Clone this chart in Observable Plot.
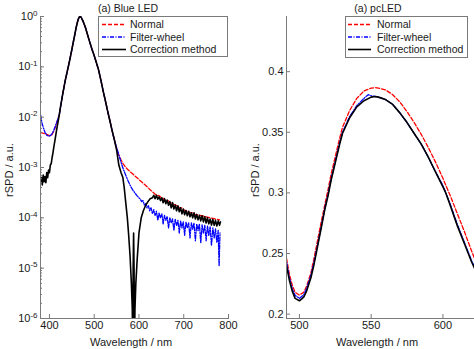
<!DOCTYPE html>
<html><head><meta charset="utf-8">
<script src="https://cdn.jsdelivr.net/npm/d3@7"></script>
<script src="https://cdn.jsdelivr.net/npm/@observablehq/plot@0.6"></script>
<style>
body{margin:0;background:#fff;font-family:"Liberation Sans",Arial,sans-serif;}
#wrap{position:relative;width:474px;height:349px;overflow:hidden;background:#fff;}
.panel{position:absolute;top:0;}
.lab{position:absolute;white-space:nowrap;color:#1a1a1a;transform:translate(-50%,-50%);line-height:1;}
.ylab{transform:translate(-50%,-50%) rotate(-90deg);}
.legend{position:absolute;}
</style></head>
<body><div id="wrap"></div>
<script>
// ---------- data ----------
const seriesNames = ["Normal", "Filter-wheel", "Correction method"];
const blueTitle = "(a) Blue LED";
const pcTitle = "(a) pcLED";
const xTitle = "Wavelength / nm";
const yTitle = "rSPD / a.u.";

const blueXTicks = [400, 500, 600, 700, 800];
const blueYTicks = [1e-6, 1e-5, 1e-4, 1e-3, 1e-2, 1e-1, 1];
const blueYTickExp = ["-6", "-5", "-4", "-3", "-2", "-1", "0"];
const pcXTicks = [500, 550, 600];
const pcYTicks = [0.2, 0.25, 0.3, 0.35, 0.4];
const pcYTickLabels = ["0.2", "0.25", "0.3", "0.35", "0.4"];

// Blue LED: shared peak (all three methods coincide)
const blueCore = [[422,1.12e-2],[425,1.66e-2],[430,3.0e-2],[435,5.2e-2],[440,8.3e-2],[445,0.132],[450,0.219],[455,0.37],[460,0.62],[464,0.87],[467,0.99],[469,1.0],[471,0.955],[475,0.81],[480,0.62],[485,0.44],[490,0.31],[495,0.224],[500,0.166],[505,0.12],[510,0.085],[515,0.054],[520,0.033],[525,0.021],[530,0.0132],[535,0.0085],[540,0.0054],[545,0.00355]];

// Blue LED: Normal
const normalHead = [[380,5.0e-3],[385,4.8e-3],[390,4.7e-3],[395,4.5e-3],[400,4.3e-3],[405,4.4e-3],[410,5.3e-3],[415,7.0e-3],[419,9.3e-3]];
const normalTail = [[550,2.4e-3],[555,1.78e-3],[560,1.41e-3],[565,1.17e-3],[570,1.02e-3],[575,9.1e-4],[580,8.3e-4],[585,7.6e-4],[590,6.9e-4],[595,6.3e-4],[600,5.75e-4],[605,5.25e-4],[610,4.8e-4],[615,4.4e-4],[620,4.0e-4],[625,3.6e-4],[630,3.3e-4],[635,3.0e-4],[640,2.8e-4],[645,2.75e-4],[650,2.5e-4],[655,2.4e-4],[660,2.2e-4],[665,2.2e-4],[670,2.0e-4],[675,1.9e-4],[680,1.82e-4],[685,1.74e-4],[690,1.58e-4],[695,1.58e-4],[700,1.45e-4],[705,1.38e-4],[710,1.32e-4],[715,1.26e-4],[720,1.26e-4],[725,1.17e-4],[730,1.15e-4],[740,1.1e-4],[750,1.05e-4],[760,1.0e-4],[770,9.5e-5],[780,9.1e-5]];

// Blue LED: Filter-wheel
const filterHead = [[380,1.12e-2],[383,7.9e-3],[386,6.3e-3],[390,5.0e-3],[394,4.4e-3],[398,4.2e-3],[402,4.3e-3],[406,4.7e-3],[410,5.6e-3],[415,7.4e-3],[419,9.3e-3]];
const filterTail = [[550,2.5e-3],[555,1.78e-3],[560,1.26e-3],[565,9.3e-4],[570,7.2e-4],[575,5.6e-4],[580,4.5e-4],[585,3.7e-4],[590,3.2e-4],[595,2.8e-4],[600,2.5e-4],[603,2.35e-4],[606,2.1e-4],[609,2.2e-4],[612,1.8e-4],[615,1.9e-4],[618,1.58e-4],[621,1.74e-4],[624,1.38e-4],[627,1.58e-4],[630,1.2e-4],[633,1.45e-4],[636,1.12e-4],[639,1.35e-4],[642,8.9e-5],[645,1.26e-4],[648,1.0e-4],[651,1.2e-4],[654,7.6e-5],[657,1.12e-4],[660,8.9e-5],[663,1.07e-4],[666,6.3e-5],[669,1.0e-4],[672,7.9e-5],[675,9.5e-5],[678,5.6e-5],[681,9.3e-5],[684,7.1e-5],[687,8.9e-5],[690,5.0e-5],[693,8.7e-5],[696,6.3e-5],[699,8.3e-5],[702,4.5e-5],[705,8.3e-5],[708,6.3e-5],[711,7.9e-5],[714,4.0e-5],[717,7.9e-5],[720,6.0e-5],[723,7.9e-5],[726,3.5e-5],[729,7.6e-5],[732,5.6e-5],[735,7.6e-5],[738,3.2e-5],[741,7.2e-5],[744,5.0e-5],[747,7.1e-5],[750,3.5e-5],[753,6.9e-5],[756,4.5e-5],[759,6.6e-5],[762,2.8e-5],[765,6.3e-5],[768,4.0e-5],[771,6.0e-5],[774,3.2e-5],[777,5.6e-5],[779,1.1e-5],[781,5.0e-5]];

// Blue LED: Correction method
const corrHead = [[380,5.0e-4],[382,6.3e-4],[384,4.5e-4],[386,7.1e-4],[388,5.2e-4],[390,6.6e-4],[392,5.0e-4],[394,7.9e-4],[396,6.3e-4],[398,8.9e-4],[400,7.9e-4],[402,1.12e-3],[404,1.2e-3],[406,1.58e-3],[408,2.0e-3],[410,2.63e-3],[413,3.8e-3],[416,5.6e-3],[419,7.9e-3]];
const corrTail = [[550,2.24e-3],[555,1.12e-3],[560,7.9e-4],[564,6.3e-4],[567,4.0e-4],[570,2.2e-4],[574,1.0e-4],[577,4.5e-5],[580,1.8e-5],[583,5e-6],[585,1.6e-6],[586,3e-7],[587,1.0e-5],[588,5.0e-5],[589,1.0e-5],[590,3e-7],[591,1.5e-6],[593,5e-6],[596,1.5e-5],[600,5e-5],[605,1.0e-4],[610,1.4e-4],[615,1.78e-4],[620,2.1e-4],[625,2.4e-4],[630,2.5e-4],[633,2.8e-4],[636,2.4e-4],[639,2.8e-4],[642,2.35e-4],[645,2.6e-4],[648,2.2e-4],[651,2.5e-4],[654,2.0e-4],[657,2.4e-4],[660,1.9e-4],[663,2.25e-4],[666,1.78e-4],[669,2.1e-4],[672,1.58e-4],[675,2.0e-4],[678,1.5e-4],[681,1.8e-4],[684,1.38e-4],[687,1.74e-4],[690,1.32e-4],[693,1.58e-4],[696,1.2e-4],[699,1.5e-4],[702,1.15e-4],[705,1.4e-4],[708,1.1e-4],[711,1.35e-4],[714,1.05e-4],[717,1.26e-4],[720,1.0e-4],[723,1.26e-4],[726,9.5e-5],[729,1.17e-4],[732,9.1e-5],[735,1.12e-4],[738,8.7e-5],[741,1.1e-4],[744,8.3e-5],[747,1.05e-4],[750,7.9e-5],[753,1.0e-4],[756,7.6e-5],[759,9.5e-5],[762,7.2e-5],[765,9.3e-5],[768,7.1e-5],[771,8.9e-5],[774,6.9e-5],[777,8.7e-5],[780,7.1e-5],[782,8.3e-5]];

// pcLED
const pcNormal = [[491,0.246],[493,0.233],[495,0.224],[497,0.218],[500,0.2157],[503,0.218],[505,0.223],[508,0.234],[510,0.245],[512,0.257],[515,0.275],[518,0.292],[520,0.303],[522,0.315],[525,0.330],[528,0.345],[530,0.354],[535,0.368],[540,0.378],[545,0.384],[550,0.3865],[553,0.3868],[555,0.3865],[560,0.385],[565,0.381],[570,0.375],[575,0.367],[580,0.358],[585,0.348],[590,0.337],[595,0.325],[600,0.312],[605,0.298],[610,0.283],[615,0.268],[620,0.252],[622,0.246]];
const pcFilter = [[491,0.243],[493,0.230],[495,0.221],[497,0.2155],[500,0.213],[503,0.216],[505,0.221],[508,0.232],[510,0.242],[512,0.253],[515,0.271],[518,0.289],[520,0.299],[522,0.311],[525,0.326],[528,0.341],[530,0.350],[535,0.363],[540,0.372],[545,0.378],[548,0.381],[550,0.380],[553,0.3795],[555,0.379],[560,0.377],[565,0.373],[570,0.366],[575,0.358],[580,0.349],[585,0.340],[590,0.329],[595,0.317],[600,0.306],[605,0.291],[610,0.274],[615,0.259],[620,0.244],[622,0.239]];
const pcCorr = [[491,0.240],[493,0.228],[495,0.219],[497,0.213],[500,0.211],[503,0.214],[505,0.219],[508,0.230],[510,0.240],[512,0.252],[515,0.270],[518,0.288],[520,0.298],[522,0.310],[525,0.325],[528,0.340],[530,0.349],[535,0.362],[540,0.371],[545,0.376],[550,0.379],[553,0.3795],[555,0.379],[560,0.377],[565,0.373],[570,0.366],[575,0.358],[580,0.349],[585,0.340],[590,0.329],[595,0.317],[600,0.305],[602,0.300],[605,0.290],[610,0.273],[615,0.258],[620,0.243],[622,0.238]];

// ---------- styles ----------
const FONT = '"Liberation Sans", Arial, Helvetica, sans-serif';
const AXIS = "#7a7a7a";
const TXT = "#1a1a1a";
const sty = [
  {stroke: "#ff0000", strokeDasharray: "4,2", strokeWidth: 1.3},
  {stroke: "#0000ff", strokeDasharray: "4,1.5,1,1.5", strokeWidth: 1.3},
  {stroke: "#000000", strokeDasharray: null, strokeWidth: 1.6}
];

const blueSeries = [
  [...normalHead, ...blueCore, ...normalTail],
  [...filterHead, ...blueCore, ...filterTail],
  [...corrHead, ...blueCore, ...corrTail]
];
const pcSeries = [pcNormal, pcFilter, pcCorr];

function lines(series) {
  return series.map((s, i) => Plot.line(s, {x: d => d[0], y: d => d[1], clip: true,
    stroke: sty[i].stroke, strokeDasharray: sty[i].strokeDasharray, strokeWidth: sty[i].strokeWidth,
    strokeLinejoin: "round"}));
}

const minorLog = d3.scaleLog().domain([1e-6, 1]).ticks();

const left = Plot.plot({
  width: 237, height: 349, marginLeft: 40, marginRight: 9, marginTop: 16, marginBottom: 31,
  style: {fontFamily: FONT, fontSize: "11px", background: "transparent", color: TXT, overflow: "visible"},
  x: {domain: [380, 800]},
  y: {type: "log", domain: [1e-6, 1]},
  marks: [
    ...lines(blueSeries),
    Plot.frame({anchor: "left", stroke: AXIS}),
    Plot.frame({anchor: "bottom", stroke: AXIS}),
    Plot.axisY(minorLog, {tickSize: -2, tickFormat: () => "", stroke: AXIS, label: null}),
    Plot.axisY(blueYTicks, {tickSize: -4, tickPadding: 7, stroke: AXIS, fill: TXT, label: null,
      tickFormat: d => "10^" + blueYTickExp[blueYTicks.indexOf(d)]}),
    Plot.axisX(blueXTicks, {tickSize: -4, tickPadding: 7, stroke: AXIS, fill: TXT, label: null, tickFormat: d => String(d)})
  ]
});

const right = Plot.plot({
  width: 237, height: 349, marginLeft: 49, marginRight: 0, marginTop: 16, marginBottom: 31,
  style: {fontFamily: FONT, fontSize: "11px", background: "transparent", color: TXT, overflow: "visible"},
  x: {domain: [491, 622]},
  y: {domain: [0.1964, 0.4455]},
  marks: [
    ...lines(pcSeries),
    Plot.frame({anchor: "left", stroke: AXIS}),
    Plot.frame({anchor: "bottom", stroke: AXIS}),
    Plot.axisY(pcYTicks, {tickSize: -4, tickPadding: 7, stroke: AXIS, fill: TXT, label: null,
      tickFormat: d => pcYTickLabels[pcYTicks.indexOf(d)]}),
    Plot.axisX(pcXTicks, {tickSize: -4, tickPadding: 7, stroke: AXIS, fill: TXT, label: null, tickFormat: d => String(d)})
  ]
});

// superscripts for log labels
d3.select(left).selectAll("text").each(function() {
  const t = this.textContent;
  if (t.includes("^")) {
    const [b, e] = t.split("^");
    const s = d3.select(this);
    s.text(b);
    s.append("tspan").attr("dy", "-0.55em").attr("font-size", "8px").text(e);
  }
});

const wrap = d3.select("#wrap");
const p1 = wrap.append("div").attr("class", "panel").style("left", "0px");
p1.node().appendChild(left);
const p2 = wrap.append("div").attr("class", "panel").style("left", "237px");
p2.node().appendChild(right);

function label(txt, x, y, size, cls) {
  wrap.append("div").attr("class", "lab " + (cls || "")).style("left", x + "px").style("top", y + "px")
    .style("font-size", size + "px").style("font-family", FONT).text(txt);
}
label(blueTitle, 128, 8, 10.5);
label(pcTitle, 378, 8, 10.5);
label(xTitle, 131, 342, 11);
label(xTitle, 377, 342, 11);
label(yTitle, 9, 170, 11, "ylab");
label(yTitle, 255, 170, 11, "ylab");

function legend(x, y, w, h, x0, x1, tx) {
  const svg = wrap.append("svg").attr("class", "legend").style("left", x + "px").style("top", y + "px")
    .attr("width", w).attr("height", h);
  svg.append("rect").attr("x", 0.5).attr("y", 0.5).attr("width", w - 1).attr("height", h - 1)
    .attr("fill", "#fff").attr("stroke", AXIS);
  seriesNames.forEach((n, i) => {
    const yy = 8.5 + i * 12.5;
    svg.append("line").attr("x1", x0).attr("x2", x1).attr("y1", yy).attr("y2", yy)
      .attr("stroke", sty[i].stroke).attr("stroke-width", sty[i].strokeWidth)
      .attr("stroke-dasharray", sty[i].strokeDasharray);
    svg.append("text").attr("x", tx).attr("y", yy).attr("dy", "0.35em").attr("font-size", 10.5)
      .attr("font-family", FONT).attr("fill", TXT).text(n);
  });
}
legend(98, 16, 130, 41, 4, 28, 32);
legend(345, 16, 123, 42, 3, 26, 32);
</script></body></html>
